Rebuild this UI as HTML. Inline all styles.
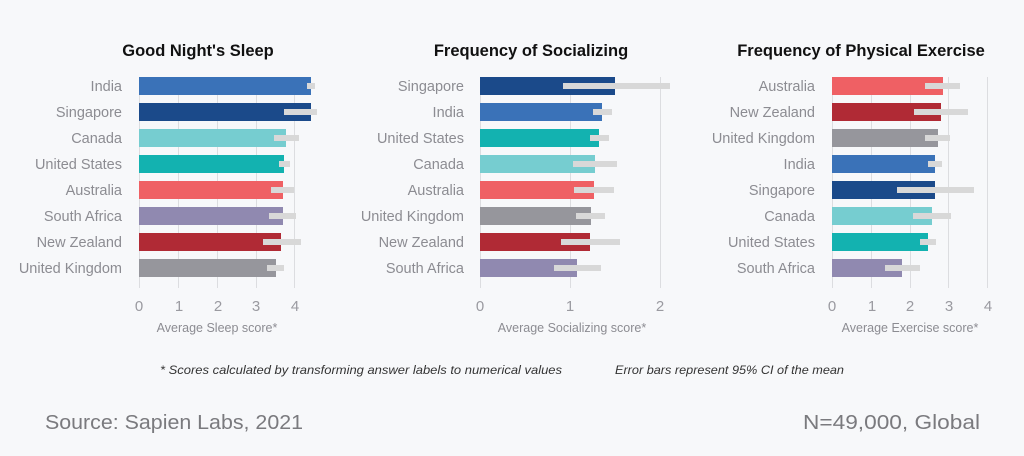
<!DOCTYPE html>
<html><head><meta charset="utf-8"><style>
html,body{margin:0;padding:0;background:#f7f8fa;}
svg{display:block;font-family:"Liberation Sans",sans-serif;}
.lab{fill:#8c8c92;font-size:14.5px;text-anchor:end;}
.tick{fill:#9a9aa0;font-size:15px;text-anchor:middle;}
.ax{fill:#8c8c92;font-size:12.5px;text-anchor:middle;}
.tt{fill:#111;font-size:16.5px;font-weight:bold;text-anchor:middle;}
.g{stroke:#dcdde0;stroke-width:1;}
.e{fill:#d8d8d8;}
</style></head><body>
<svg width="1024" height="456" viewBox="0 0 1024 456" xmlns="http://www.w3.org/2000/svg">
<rect width="1024" height="456" fill="#f7f8fa"/>

<!-- Chart 1 -->
<text class="tt" x="198" y="56">Good Night's Sleep</text>
<g class="g">
<line x1="139.5" y1="77" x2="139.5" y2="288"/><line x1="178.5" y1="77" x2="178.5" y2="288"/><line x1="217.5" y1="77" x2="217.5" y2="288"/><line x1="256.5" y1="77" x2="256.5" y2="288"/><line x1="294.5" y1="77" x2="294.5" y2="288"/>
</g>
<g>
<rect x="139" y="77" width="172" height="18" fill="#3a72b8"/>
<rect x="139" y="103" width="172" height="18" fill="#1b4a8a"/>
<rect x="139" y="129" width="147" height="18" fill="#76cdd0"/>
<rect x="139" y="155" width="145" height="18" fill="#13b2b0"/>
<rect x="139" y="181" width="144" height="18" fill="#ef6064"/>
<rect x="139" y="207" width="144" height="18" fill="#9089b0"/>
<rect x="139" y="233" width="142" height="18" fill="#b02a35"/>
<rect x="139" y="259" width="137" height="18" fill="#96969c"/>
</g>
<g class="e">
<rect x="307" y="83" width="8" height="6"/>
<rect x="284" y="109" width="33" height="6"/>
<rect x="274" y="135" width="25" height="6"/>
<rect x="279" y="161" width="11" height="6"/>
<rect x="271" y="187" width="23" height="6"/>
<rect x="269" y="213" width="27" height="6"/>
<rect x="263" y="239" width="38" height="6"/>
<rect x="267" y="265" width="17" height="6"/>
</g>
<g class="lab">
<text x="122" y="91">India</text><text x="122" y="117">Singapore</text><text x="122" y="143">Canada</text><text x="122" y="169">United States</text><text x="122" y="195">Australia</text><text x="122" y="221">South Africa</text><text x="122" y="247">New Zealand</text><text x="122" y="273">United Kingdom</text>
</g>
<g class="tick"><text x="139" y="311">0</text><text x="179" y="311">1</text><text x="218" y="311">2</text><text x="256" y="311">3</text><text x="295" y="311">4</text></g>
<text class="ax" x="217" y="332">Average Sleep score*</text>

<!-- Chart 2 -->
<text class="tt" x="531" y="56">Frequency of Socializing</text>
<g class="g">
<line x1="480.5" y1="77" x2="480.5" y2="288"/><line x1="570.5" y1="77" x2="570.5" y2="288"/><line x1="660.5" y1="77" x2="660.5" y2="288"/>
</g>
<g>
<rect x="480" y="77" width="135" height="18" fill="#1b4a8a"/>
<rect x="480" y="103" width="122" height="18" fill="#3a72b8"/>
<rect x="480" y="129" width="119" height="18" fill="#13b2b0"/>
<rect x="480" y="155" width="115" height="18" fill="#76cdd0"/>
<rect x="480" y="181" width="114" height="18" fill="#ef6064"/>
<rect x="480" y="207" width="111" height="18" fill="#96969c"/>
<rect x="480" y="233" width="110" height="18" fill="#b02a35"/>
<rect x="480" y="259" width="97" height="18" fill="#9089b0"/>
</g>
<g class="e">
<rect x="563" y="83" width="107" height="6"/>
<rect x="593" y="109" width="19" height="6"/>
<rect x="590" y="135" width="19" height="6"/>
<rect x="573" y="161" width="44" height="6"/>
<rect x="574" y="187" width="40" height="6"/>
<rect x="576" y="213" width="29" height="6"/>
<rect x="561" y="239" width="59" height="6"/>
<rect x="554" y="265" width="47" height="6"/>
</g>
<g class="lab">
<text x="464" y="91">Singapore</text><text x="464" y="117">India</text><text x="464" y="143">United States</text><text x="464" y="169">Canada</text><text x="464" y="195">Australia</text><text x="464" y="221">United Kingdom</text><text x="464" y="247">New Zealand</text><text x="464" y="273">South Africa</text>
</g>
<g class="tick"><text x="480" y="311">0</text><text x="570" y="311">1</text><text x="660" y="311">2</text></g>
<text class="ax" x="572" y="332">Average Socializing score*</text>

<!-- Chart 3 -->
<text class="tt" x="861" y="56">Frequency of Physical Exercise</text>
<g class="g">
<line x1="832.5" y1="77" x2="832.5" y2="288"/><line x1="871.5" y1="77" x2="871.5" y2="288"/><line x1="910.5" y1="77" x2="910.5" y2="288"/><line x1="948.5" y1="77" x2="948.5" y2="288"/><line x1="987.5" y1="77" x2="987.5" y2="288"/>
</g>
<g>
<rect x="832" y="77" width="111" height="18" fill="#ef6064"/>
<rect x="832" y="103" width="109" height="18" fill="#b02a35"/>
<rect x="832" y="129" width="106" height="18" fill="#96969c"/>
<rect x="832" y="155" width="103" height="18" fill="#3a72b8"/>
<rect x="832" y="181" width="103" height="18" fill="#1b4a8a"/>
<rect x="832" y="207" width="100" height="18" fill="#76cdd0"/>
<rect x="832" y="233" width="96" height="18" fill="#13b2b0"/>
<rect x="832" y="259" width="70" height="18" fill="#9089b0"/>
</g>
<g class="e">
<rect x="925" y="83" width="35" height="6"/>
<rect x="914" y="109" width="54" height="6"/>
<rect x="925" y="135" width="25" height="6"/>
<rect x="928" y="161" width="14" height="6"/>
<rect x="897" y="187" width="77" height="6"/>
<rect x="913" y="213" width="38" height="6"/>
<rect x="920" y="239" width="16" height="6"/>
<rect x="885" y="265" width="35" height="6"/>
</g>
<g class="lab">
<text x="815" y="91">Australia</text><text x="815" y="117">New Zealand</text><text x="815" y="143">United Kingdom</text><text x="815" y="169">India</text><text x="815" y="195">Singapore</text><text x="815" y="221">Canada</text><text x="815" y="247">United States</text><text x="815" y="273">South Africa</text>
</g>
<g class="tick"><text x="832" y="311">0</text><text x="872" y="311">1</text><text x="910" y="311">2</text><text x="949" y="311">3</text><text x="988" y="311">4</text></g>
<text class="ax" x="910" y="332">Average Exercise score*</text>

<!-- Footnotes -->
<text x="160" y="374" font-size="12" font-style="italic" fill="#333" textLength="402" lengthAdjust="spacingAndGlyphs">* Scores calculated by transforming answer labels to numerical values</text>
<text x="615" y="374" font-size="12" font-style="italic" fill="#333" textLength="229" lengthAdjust="spacingAndGlyphs">Error bars represent 95% CI of the mean</text>
<text x="45" y="429" font-size="20" fill="#7a7a7e" textLength="258" lengthAdjust="spacingAndGlyphs">Source: Sapien Labs, 2021</text>
<text x="803" y="429" font-size="20" fill="#7a7a7e" textLength="177" lengthAdjust="spacingAndGlyphs">N=49,000, Global</text>
</svg>
</body></html>
